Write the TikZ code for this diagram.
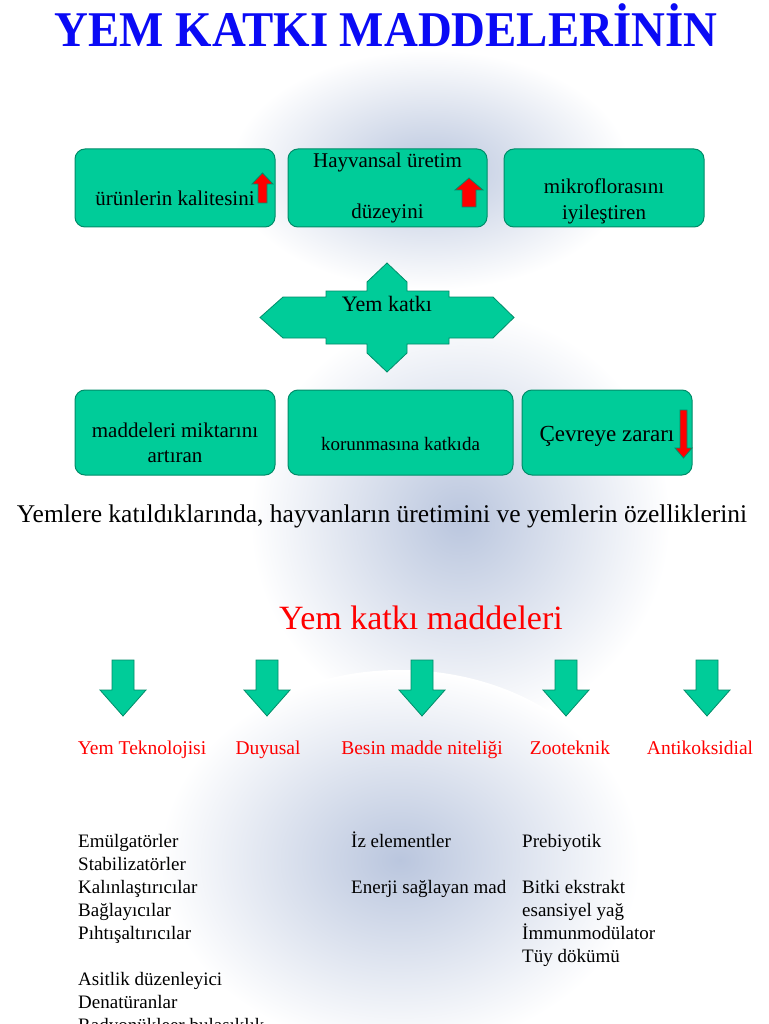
\documentclass[tikz,border=0pt]{standalone}
\usepackage{fontspec}
\setmainfont{Liberation Serif}
\usepackage{xcolor}

\definecolor{katkigreen}{RGB}{0,204,153}
\definecolor{katkiedge}{RGB}{0,140,105}
\definecolor{sky}{RGB}{186,198,222}
\definecolor{titleblue}{RGB}{10,10,245}

\begin{document}
\begin{tikzpicture}[x=1pt, y=-1pt,
        box/.style={draw=katkiedge, line width=1pt, rounded corners=10pt, fill=katkigreen, align=center, inner sep=0pt, font=\fontsize{21}{25}\selectfont},
        redarrow/.style={fill=red, draw=katkiedge, line width=0.8pt},
        greenarrow/.style={fill=katkigreen, draw=katkiedge, line width=0.8pt},
        grouptext/.style={anchor=base, text=red, font=\fontsize{19.5}{23}\selectfont},
        listtext/.style={anchor=base west, inner sep=0pt, font=\fontsize{19}{23}\selectfont}
    ]

    % page and sky
    \clip (0,0) rectangle (768,1024);
    \fill[white] (0,0) rectangle (768,1024);
    \shade[inner color=sky, outer color=white] (430,170) ellipse (200 and 120);
    \shade[inner color=sky, outer color=white] (460,520) ellipse (210 and 210);
    \shade[inner color=sky, outer color=white] (400,860) ellipse (240 and 190);

    \node[anchor=base, text=titleblue, font=\fontsize{50}{56}\selectfont\bfseries] (baslik) at (386,47) {\scalebox{0.937}[1]{YEM KATKI MADDELERİNİN}};

    % upper row
    \node[box, minimum width=200pt, minimum height=78pt] (kalite) at (175,188) {\strut\\\strut ürünlerin kalitesini};
    \node[box, minimum width=199pt, minimum height=78pt] (uretim) at (387.5,188) {\strut Hayvansal üretim\\[26pt]\strut düzeyini};
    \node[box, minimum width=200pt, minimum height=78pt] (mikroflora) at (604,188) {\rule{0pt}{44.5pt}mikroflorasını\\\strut iyileştiren};

    \draw[redarrow] (258,203) -- (258,184) -- (252,184) -- (262.5,173) -- (273,184) -- (267,184) -- (267,203) -- cycle;
    \draw[redarrow] (462,207) -- (462,190) -- (455,190) -- (469,178) -- (483,190) -- (476,190) -- (476,207) -- cycle;

    % centre star
    \draw[greenarrow] (260,317.5) -- (283,297) -- (326,297) -- (326,291) -- (367,291) -- (367,282) -- (387,263)
        -- (407,282) -- (407,291) -- (449,291) -- (449,297) -- (493,297) -- (514,317.5) -- (493,338)
        -- (449,338) -- (449,344) -- (407,344) -- (407,353) -- (387,372) -- (367,353) -- (367,344)
        -- (326,344) -- (326,338) -- (283,338) -- cycle;
    \node[anchor=base, font=\fontsize{22}{26}\selectfont] (katki) at (387,311) {Yem katkı};

    % lower row
    \node[box, minimum width=200pt, minimum height=85pt] (miktar) at (175,432.5) {\strut\\\strut maddeleri miktarını\\\strut artıran};
    \node[box, minimum width=225pt, minimum height=85pt, font=\fontsize{19}{25}\selectfont] (koruma) at (400.5,432.5) {\strut\\\strut korunmasına katkıda};
    \node[box, minimum width=170pt, minimum height=85pt, font=\fontsize{23}{27}\selectfont] (cevre) at (607,432.5) {\strut\\[-19pt]\strut Çevreye zararı};

    \draw[redarrow] (680,410) -- (687,410) -- (687,448) -- (692,448) -- (683.5,458) -- (675,448) -- (680,448) -- cycle;

    \node[anchor=base, font=\fontsize{25.5}{30}\selectfont] (aciklama) at (382,522) {Yemlere katıldıklarında, hayvanların üretimini ve yemlerin özelliklerini};

    % groups
    \node[anchor=base, text=red, font=\fontsize{34}{40}\selectfont] (maddeler) at (421,629) {Yem katkı maddeleri};

    \foreach \x in {123,267,422,566,707}
        \draw[greenarrow] (\x-11,660) -- (\x+11,660) -- (\x+11,690) -- (\x+23,690) -- (\x,716) -- (\x-23,690) -- (\x-11,690) -- cycle;

    \node[grouptext] (teknoloji) at (142,754) {Yem Teknolojisi};
    \node[grouptext] (duyusal) at (268,754) {Duyusal};
    \node[grouptext] (besin) at (422,754) {Besin madde niteliği};
    \node[grouptext] (zooteknik) at (570,754) {Zooteknik};
    \node[grouptext] (antiok) at (700,754) {Antikoksidial};

    % lists
    \foreach \y/\t [count=\i] in {847/Emülgatörler, 870/Stabilizatörler, 893/Kalınlaştırıcılar, 916/Bağlayıcılar,
            939/Pıhtışaltırıcılar, 985/Asitlik düzenleyici, 1008/Denatüranlar, 1031/Radyonükleer bulaşıklık}
        \node[listtext] (tek\i) at (78,\y) {\t};
    \foreach \y/\t [count=\i] in {847/İz elementler, 893/Enerji sağlayan mad}
        \node[listtext] (besin\i) at (351,\y) {\t};
    \foreach \y/\t [count=\i] in {847/Prebiyotik, 893/Bitki ekstrakt, 916/esansiyel yağ, 939/İmmunmodülator, 962/Tüy dökümü}
        \node[listtext] (zoo\i) at (522,\y) {\t};

\end{tikzpicture}
\end{document}
